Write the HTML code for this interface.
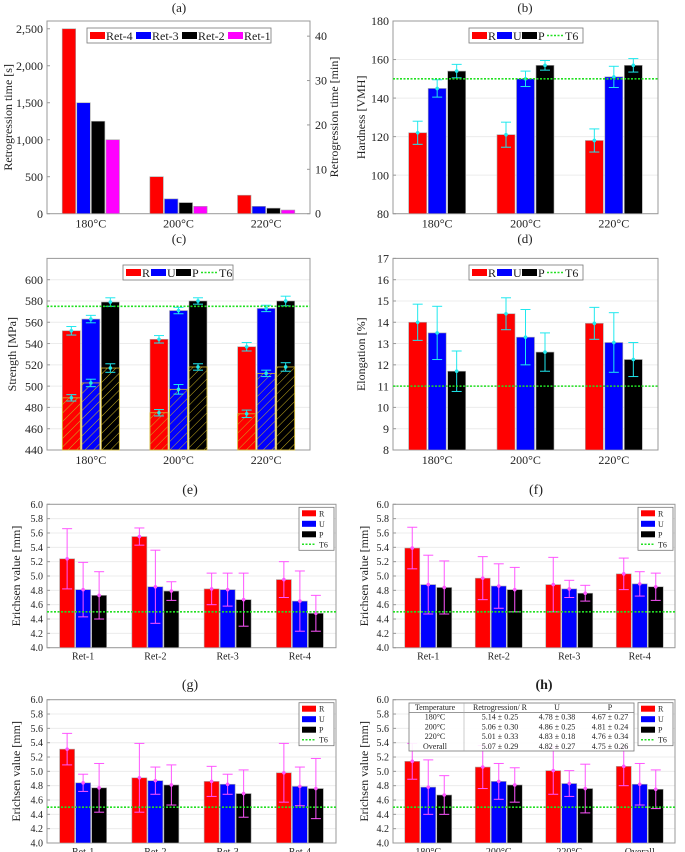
<!DOCTYPE html>
<html><head><meta charset="utf-8">
<style>
html,body{margin:0;padding:0;background:#fff;}
svg{display:block;font-family:"Liberation Serif",serif;}
</style></head>
<body>
<svg id="fig" width="685" height="852" viewBox="0 0 685 852" xmlns="http://www.w3.org/2000/svg">
<defs>
<pattern id="hatch" patternUnits="userSpaceOnUse" width="6" height="6" patternTransform="rotate(45)">
<line x1="0" y1="0" x2="0" y2="6" stroke="#c9b020" stroke-width="1"/>
</pattern>
</defs>
</svg>
<script>
// ---- panel (a) data
const aCats = ["180°C","200°C","220°C"];
const aRet4 = [2500, 500, 250];
const aRet3 = [1500, 200, 100];
const aRet2 = [1250, 150, 75];
const aRet1 = [1000, 100, 50];
const aTicks = [0,500,1000,1500,2000,2500];
const aTicksMin = [0,10,20,30,40];
// ---- panel (b) hardness
const tCats = ["180°C","200°C","220°C"];
const bR = [122,121,118], bRe=[6,6.5,6];
const bU = [145,150,151], bUe=[4.5,4,5.5];
const bP = [154,157,157], bPe=[3.5,2.5,3.5];
const bTicks = [80,100,120,140,160,180];
const bT6 = 150;
// ---- panel (c) strength
const cR = [552,544,537], cRe=[4,3.5,4];
const cU = [563,571,573], cUe=[3.5,3,3];
const cP = [579,580,580], cPe=[4,3,4.5];
const cRy = [489,475,474], cRye=[3,3,3.5];
const cUy = [503,497,512], cUye=[3.5,4.5,3];
const cPy = [517,518,518], cPye=[4,3,4];
const cTicks = [440,460,480,500,520,540,560,580,600];
const cT6 = 575;
// ---- panel (d) elongation
const dR = [14.0,14.4,13.95], dRe=[0.85,0.75,0.75];
const dU = [13.5,13.3,13.05], dUe=[1.25,1.3,1.4];
const dP = [11.7,12.6,12.25], dPe=[0.95,0.9,0.8];
const dTicks = [8,9,10,11,12,13,14,15,16,17];
const dT6 = 11;
// ---- Erichsen panels
const retCats = ["Ret-1","Ret-2","Ret-3","Ret-4"];
const eTicks = [4.0,4.2,4.4,4.6,4.8,5.0,5.2,5.4,5.6,5.8,6.0];
const eT6 = 4.5;
const eR = [5.24,5.55,4.82,4.95], eRe=[0.42,0.12,0.22,0.25];
const eU = [4.81,4.85,4.81,4.65], eUe=[0.38,0.51,0.23,0.42];
const eP = [4.73,4.79,4.67,4.48], ePe=[0.33,0.13,0.37,0.25];
const fR = [5.39,4.97,4.88,5.03], fRe=[0.29,0.30,0.38,0.22];
const fU = [4.88,4.86,4.82,4.89], fUe=[0.41,0.31,0.12,0.17];
const fP = [4.84,4.81,4.76,4.85], fPe=[0.37,0.31,0.11,0.19];
const gR = [5.31,4.91,4.86,4.98], gRe=[0.22,0.48,0.21,0.41];
const gU = [4.84,4.87,4.82,4.79], gUe=[0.12,0.19,0.14,0.27];
const gP = [4.77,4.81,4.69,4.76], gPe=[0.34,0.28,0.33,0.42];
const hCats = ["180°C","200°C","220°C","Overall"];
const hR = [5.14,5.06,5.01,5.07], hRe=[0.25,0.30,0.33,0.27];
const hU = [4.78,4.86,4.83,4.82], hUe=[0.38,0.25,0.18,0.29];
const hP = [4.67,4.81,4.76,4.75], hPe=[0.27,0.24,0.34,0.27];
const hTable = [
 ["Temperature","Retrogression/ R","U","P"],
 ["180°C","5.14 ± 0.25","4.78 ± 0.38","4.67 ± 0.27"],
 ["200°C","5.06 ± 0.30","4.86 ± 0.25","4.81 ± 0.24"],
 ["220°C","5.01 ± 0.33","4.83 ± 0.18","4.76 ± 0.34"],
 ["Overall","5.07 ± 0.29","4.82 ± 0.27","4.75 ± 0.26"]
];

const svg = document.getElementById('fig');
const NS = "http://www.w3.org/2000/svg";
function mk(tag, attrs, parent){
  const e=document.createElementNS(NS,tag);
  for(const k in attrs) e.setAttribute(k,attrs[k]);
  (parent||svg).appendChild(e); return e;
}
function txt(x,y,s,size,anchor,parent,extra){
  const t=mk('text',Object.assign({x:x,y:y,'font-size':size,'text-anchor':anchor||'middle',fill:'#222'},extra||{}),parent);
  t.textContent=s; return t;
}

function panel(o){
  const g=mk('g',{});
  
  
  const ys=v=>o.y1-(v-o.vmin)/(o.vmax-o.vmin)*(o.y1-o.y0);
  const n=o.cats.length, gw=(o.x1-o.x0)/n;
  const xc=i=>o.x0+(i+0.5)*gw;
  if(o.grid){ o.ticks.forEach(t=>{ const y=ys(t); mk('line',{x1:o.x0,x2:o.x1,y1:y,y2:y,stroke:'#ececec','stroke-width':1},g);}); }
  const fr=mk('rect',{x:o.x0,y:o.y0,width:o.x1-o.x0,height:o.y1-o.y0,fill:'none',stroke:'#999','stroke-width':1},g);
  
  
  o.ticks.forEach(t=>{ const y=ys(t);
    mk('line',{x1:o.x0,x2:o.x0+3,y1:y,y2:y,stroke:'#999'},g);
    const l=txt(o.x0-4,y+o.fs*0.35,o.fmt(t),o.fs,'end',g);
    
    
  });
  const yl=txt(o.ylx,(o.y0+o.y1)/2,o.ylabel,o.lfs,'middle',g,{transform:`rotate(-90 ${o.ylx} ${(o.y0+o.y1)/2})`});
  
  
  o.cats.forEach((c,i)=>{ const l=txt(xc(i),o.y1+o.fs+2,c,o.fs,'middle',g);
    
    });
  const m=o.series.length;
  o.series.forEach((s,si)=>{
    s.vals.forEach((v,i)=>{
      const x=xc(i)+(si-(m-1)/2)*o.step-o.bw/2;
      const b=mk('rect',{x:x,y:ys(v),width:o.bw,height:o.y1-ys(v),fill:s.color,stroke:'#aaa','stroke-width':0.6},g);
      
      
      if(s.yield){
        const yv=s.yield[i];
        const h=mk('rect',{x:x,y:ys(yv),width:o.bw,height:o.y1-ys(yv),fill:'url(#hatch)',stroke:'#d4b830','stroke-width':0.8},g);
        
        
      }
    });
  });
  function err(cx,v,e){
    const ya=ys(v+e), yb=ys(v-e);
    mk('line',{x1:cx,x2:cx,y1:ya,y2:yb,stroke:o.ec,'stroke-width':1},g);
    mk('line',{x1:cx-5,x2:cx+5,y1:ya,y2:ya,stroke:o.ec,'stroke-width':1},g);
    mk('line',{x1:cx-5,x2:cx+5,y1:yb,y2:yb,stroke:o.ec,'stroke-width':1},g);
    mk('circle',{cx:cx,cy:ys(v),r:1.8,fill:o.ec},g);
  }
  o.series.forEach((s,si)=>{ if(!s.err) return;
    s.vals.forEach((v,i)=>{ const cx=xc(i)+(si-(m-1)/2)*o.step;
      err(cx,v,s.err[i]);
      if(s.yield) err(cx,s.yield[i],s.yerr[i]);
    });
  });
  if(o.t6!==undefined){ const y=ys(o.t6);
    const l=mk('line',{x1:o.x0,x2:o.x1,y1:y,y2:y,stroke:'#22e022','stroke-width':1.6,'stroke-dasharray':'2,1.5'},g);
    
    
  }
  const tt=txt(o.tx,o.ty,o.title,o.tfs||13,'middle',g,o.tbold?{'font-weight':'bold'}:{});
  
  
  return {g,ys,xc};
}

function hLegend(g,x,y,w,items,withT6){
  const lg=mk('g',{},g);
  
  
  mk('rect',{x:x,y:y,width:w,height:15,fill:'#fff',stroke:'#777','stroke-width':0.8},lg);
  let cx=x+3;
  items.forEach(it=>{
    mk('rect',{x:cx,y:y+4,width:it.sw,height:7,fill:it.color},lg);
    cx+=it.sw+1; txt(cx,y+12,it.label,12,'start',lg);
    cx+=it.lw;
  });
  if(withT6){ mk('line',{x1:cx,x2:cx+16,y1:y+7.5,y2:y+7.5,stroke:'#22e022','stroke-width':1.6,'stroke-dasharray':'2,1.5'},lg);
    txt(cx+18,y+12,'T6',12,'start',lg);}
}
function vLegend(g,x,y){
  const lg=mk('g',{},g);
  
  
  mk('rect',{x:x,y:y,width:35,height:43,fill:'#fff',stroke:'#777','stroke-width':0.8},lg);
  [['R','#ff0000'],['U','#0000ff'],['P','#000']].forEach((it,i)=>{
    mk('rect',{x:x+3,y:y+3+i*10.5,width:14,height:6,fill:it[1]},lg);
    txt(x+20,y+9+i*10.5,it[0],8,'start',lg);
  });
  mk('line',{x1:x+3,x2:x+17,y1:y+37,y2:y+37,stroke:'#22e022','stroke-width':1.5,'stroke-dasharray':'2,1.5'},lg);
  txt(x+20,y+40,'T6',8,'start',lg);
}

// (a)
const pa=panel({name:'panel-a-retrogression-time',x0:47,x1:310,y0:21,y1:213.7,vmin:0,vmax:2605,ticks:aTicks,fmt:t=>t.toLocaleString('en-US'),fs:12,lfs:12,ylx:12,ylabel:'Retrogression time [s]',cats:aCats,bw:13.5,step:14.6,ec:'#0ff',
  series:[{key:'ret4',vals:aRet4,color:'#ff0000'},{key:'ret3',vals:aRet3,color:'#0000ff'},{key:'ret2',vals:aRet2,color:'#000'},{key:'ret1',vals:aRet1,color:'#ff00ff'}],
  tx:179,ty:12,title:'(a)'});
aTicksMin.forEach(t=>{ const y=pa.ys(t*60);
  mk('line',{x1:307,x2:310,y1:y,y2:y,stroke:'#999'},pa.g);
  const l=txt(315,y+4,String(t),12,'start',pa.g);
  
  
});
const ra=txt(338,117,'Retrogression time [min]',12,'middle',pa.g,{transform:'rotate(-90 338 117)'});


hLegend(pa.g,87,28,184,[{color:'#ff0000',sw:15,lw:30},{color:'#0000ff',sw:15,lw:30},{color:'#000',sw:15,lw:30},{color:'#ff00ff',sw:15,lw:30}].map((it,i)=>Object.assign(it,{label:['Ret-4','Ret-3','Ret-2','Ret-1'][i]})),false);

// (b)
const pb=panel({name:'panel-b-hardness',x0:393,x1:658,y0:21,y1:213.7,vmin:80,vmax:180,ticks:bTicks,fmt:t=>String(t),fs:12,lfs:12,ylx:365,ylabel:'Hardness [VMH]',cats:tCats,bw:18,step:19.5,ec:'#20e8ee',grid:true,t6:bT6,
  series:[{key:'r',vals:bR,err:bRe,color:'#ff0000'},{key:'u',vals:bU,err:bUe,color:'#0000ff'},{key:'p',vals:bP,err:bPe,color:'#000'}],
  tx:525,ty:12,title:'(b)'});
hLegend(pb.g,469,28,114,[{color:'#ff0000',sw:15,lw:9,label:'R'},{color:'#0000ff',sw:15,lw:9,label:'U'},{color:'#000',sw:15,lw:9,label:'P'}],true);

// (c)
const pc=panel({name:'panel-c-strength',x0:47,x1:310,y0:258.4,y1:450,vmin:440,vmax:620,ticks:cTicks,fmt:t=>String(t),fs:12,lfs:12,ylx:16,ylabel:'Strength [MPa]',cats:tCats,bw:18,step:19.5,ec:'#20e8ee',grid:true,t6:cT6,
  series:[{key:'r',vals:cR,err:cRe,color:'#ff0000',yield:cRy,yerr:cRye},{key:'u',vals:cU,err:cUe,color:'#0000ff',yield:cUy,yerr:cUye},{key:'p',vals:cP,err:cPe,color:'#000',yield:cPy,yerr:cPye}],
  tx:179,ty:243,title:'(c)'});
hLegend(pc.g,123,265,110,[{color:'#ff0000',sw:15,lw:9,label:'R'},{color:'#0000ff',sw:15,lw:9,label:'U'},{color:'#000',sw:15,lw:9,label:'P'}],true);

// (d)
const pd=panel({name:'panel-d-elongation',x0:393,x1:658,y0:258.4,y1:450,vmin:8,vmax:17,ticks:dTicks,fmt:t=>String(t),fs:12,lfs:12,ylx:365,ylabel:'Elongation [%]',cats:tCats,bw:18,step:19.5,ec:'#20e8ee',grid:true,t6:dT6,
  series:[{key:'r',vals:dR,err:dRe,color:'#ff0000'},{key:'u',vals:dU,err:dUe,color:'#0000ff'},{key:'p',vals:dP,err:dPe,color:'#000'}],
  tx:525,ty:243,title:'(d)'});
hLegend(pd.g,469,265,114,[{color:'#ff0000',sw:15,lw:9,label:'R'},{color:'#0000ff',sw:15,lw:9,label:'U'},{color:'#000',sw:15,lw:9,label:'P'}],true);

// Erichsen panels
function er(name,x0,x1,y0,y1,cats,R,Re,U,Ue,P,Pe,tx,ty,title,ylx,bold){
  const p=panel({name:name,x0:x0,x1:x1,y0:y0,y1:y1,vmin:4,vmax:6,ticks:eTicks,fmt:t=>t.toFixed(1),fs:10,lfs:12,ylx:ylx,ylabel:'Erichsen value [mm]',cats:cats,bw:15,step:16,ec:'#ff55ff',grid:true,t6:eT6,
    series:[{key:'r',vals:R,err:Re,color:'#ff0000'},{key:'u',vals:U,err:Ue,color:'#0000ff'},{key:'p',vals:P,err:Pe,color:'#000'}],
    tx:tx,ty:ty,title:title,tfs:14,tbold:bold});
  vLegend(p.g,x1-37,y0+3);
  return p;
}
er('panel-e-erichsen',47,336,504.3,647.7,retCats,eR,eRe,eU,eUe,eP,ePe,190,494,'(e)',20);
er('panel-f-erichsen',393,675,504.3,647.7,retCats,fR,fRe,fU,fUe,fP,fPe,536,494,'(f)',368);
er('panel-g-erichsen',47,336,699.7,843,retCats,gR,gRe,gU,gUe,gP,gPe,190,689,'(g)',20);
const ph=er('panel-h-erichsen',393,675,699.7,843,hCats,hR,hRe,hU,hUe,hP,hPe,544,689,'(h)',368,true);

// table in (h)
const tb=mk('g',{},ph.g);


mk('rect',{x:409,y:703,width:225,height:48,fill:'#fff','fill-opacity':0.9,stroke:'#777','stroke-width':0.8},tb);
mk('line',{x1:409,x2:634,y1:712.5,y2:712.5,stroke:'#777','stroke-width':0.8},tb);
mk('line',{x1:464,x2:464,y1:703,y2:751,stroke:'#aaa','stroke-width':0.6},tb);
const colX=[435,500,557,610];
hTable.forEach((row,r)=>{ row.forEach((c,ci)=>{
  txt(colX[ci],710+r*9.7,c,8,'middle',tb);
});});
</script>
</body></html>
